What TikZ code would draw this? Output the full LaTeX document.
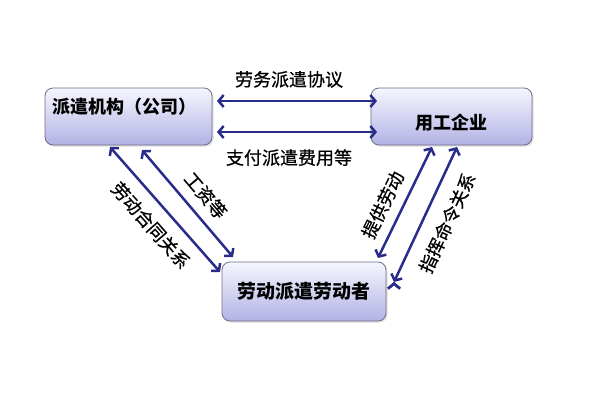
\documentclass[tikz,border=0pt]{standalone}
\usepackage{fontspec}
\newfontfamily\cjk{Noto Sans CJK SC}
\newfontfamily\cjktag[FakeBold=0.6]{Noto Sans CJK SC}
\usepackage{tikz}
\usetikzlibrary{arrows.meta,shadows}

\definecolor{boxtop}{RGB}{246,246,253}
\definecolor{boxbottom}{RGB}{178,178,230}
\definecolor{boxline}{RGB}{110,110,135}
\definecolor{linkblue}{RGB}{40,44,138}

\tikzset{
  party/.style={draw=boxline, line width=0.8pt, rounded corners=8pt,
    top color=boxtop, bottom color=boxbottom,
    drop shadow={opacity=0.25, shadow xshift=1.5pt, shadow yshift=-1.5pt},
    font=\cjk\bfseries\fontsize{18}{21}\selectfont, minimum height=57pt},
  link/.style={<->, draw=linkblue, line width=2.5pt,
    >={Straight Barb[length=5pt,width=12pt]}},
  tag/.style={font=\cjktag\fontsize{18}{21}\selectfont, inner sep=1pt}
}

\begin{document}
\begin{tikzpicture}[x=1pt,y=-1pt]
   \useasboundingbox (0,0) rectangle (600,400);
   % the three parties
   \node[party,minimum width=167pt,text width=153pt,align=left,
     inner xsep=6pt,inner ysep=10.5pt,text height=15pt,text depth=21pt]
     (agency) at (128.5,116.5) {派遣机构（公司）};
   \node[party,minimum width=161pt,text height=28pt,text depth=3pt] (firm) at (451.5,116.5) {用工企业};
   \node[party,minimum width=164pt,minimum height=59pt,
     font=\cjk\bfseries\fontsize{19}{22}\selectfont] (worker) at (304,291.5) {劳动派遣劳动者};
   % arrow ends
   \coordinate (agency r1) at (217,101);
   \coordinate (firm l1)   at (377,101);
   \coordinate (agency r2) at (217,132);
   \coordinate (firm l2)   at (377,132);
   \coordinate (agency b1) at (110,147);
   \coordinate (worker l1) at (220,272);
   \coordinate (agency b2) at (142,150);
   \coordinate (worker l2) at (233,257);
   \coordinate (worker r1) at (378,258);
   \coordinate (firm b1)   at (432,147);
   \coordinate (worker r2) at (394,282);
   \coordinate (firm b2)   at (457,147);
    \path[link]
    (agency r1) edge node[tag,pos=0.45,above=11pt] {劳务派遣协议} (firm l1)
    (agency r2) edge node[tag,pos=0.45,below=15pt] {支付派遣费用等} (firm l2)
    (agency b1) edge node[tag,sloped,pos=0.515,below=10.5pt] {劳动合同关系} (worker l1)
    (agency b2) edge node[tag,sloped,pos=0.54,above=8.5pt] {工资等} (worker l2)
    (worker r1) edge node[tag,sloped,pos=0.404,above=8.5pt] {提供劳动} (firm b1)
    (worker r2) edge node[tag,sloped,pos=0.51,below=12.5pt] {指挥命令关系} (firm b2);
\end{tikzpicture}
\end{document}
